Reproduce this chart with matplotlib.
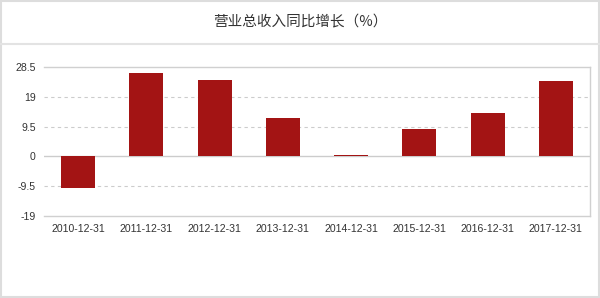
import matplotlib.pyplot as plt
from matplotlib.patches import Rectangle
from matplotlib.lines import Line2D

plt.rcParams['font.family'] = ['Liberation Sans', 'Noto Sans CJK SC', 'DejaVu Sans']

dates = ['2010-12-31', '2011-12-31', '2012-12-31', '2013-12-31',
         '2014-12-31', '2015-12-31', '2016-12-31', '2017-12-31']
growth = [-9.9, 26.5, 24.5, 12.4, 0.4, 8.6, 13.7, 23.9]
yticks = [-19, -9.5, 0, 9.5, 19, 28.5]
ytick_labels = ['-19', '-9.5', '0', '9.5', '19', '28.5']
title = '营业总收入同比增长（%）'

fig = plt.figure(figsize=(6, 2.98), dpi=100)

# outer frame and header separator
fig.patches.append(Rectangle((0.002, 0.003), 0.996, 0.994, transform=fig.transFigure,
                             fill=False, edgecolor='#dddddd', linewidth=1.5))
fig.lines.append(Line2D([0.002, 0.998], [0.853, 0.853], transform=fig.transFigure,
                        color='#e3e3e3', linewidth=1.5))
fig.text(0.5, 0.925, title, ha='center', va='center', fontsize=10.5,
         color='#333333', family=['Noto Sans CJK SC', 'DejaVu Sans'])

ax = fig.add_axes([0.0733, 0.275, 0.910, 0.500])
x = range(len(dates))
ax.bar(x, growth, width=0.5, color='#a31414', zorder=3)

ax.set_xlim(-0.5, len(dates) - 0.5)
ax.set_ylim(yticks[0], yticks[-1])
ax.set_yticks(yticks)
ax.set_yticklabels(ytick_labels)
ax.set_xticks(list(x))
ax.set_xticklabels(dates)
ax.tick_params(length=0, labelsize=7.6, colors='#333333', pad=6)

for v in [-9.5, 9.5, 19]:
    ax.axhline(v, color='#cccccc', linestyle=(0, (3, 3)), linewidth=0.8, zorder=1)
ax.axhline(0, color='#cccccc', linewidth=1, zorder=2)

for side in ['top', 'right', 'bottom']:
    ax.spines[side].set_color('#d0d0d0')
    ax.spines[side].set_linewidth(1)
ax.spines['left'].set_visible(False)

fig.savefig('out.png', dpi=100)
